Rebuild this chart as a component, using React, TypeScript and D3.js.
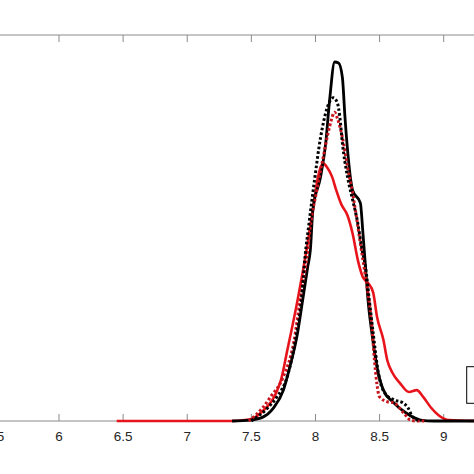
import React from "react";
import * as d3 from "d3";

const W = 474;
const H = 474;

const xTicks = [5.5, 6, 6.5, 7, 7.5, 8, 8.5, 9];

// Black solid series
const blackSolidX = [7.35, 7.49, 7.59, 7.67, 7.75, 7.8, 7.86, 7.9, 7.94, 7.96, 7.98, 8.04, 8.08, 8.11, 8.15, 8.18, 8.21, 8.23, 8.25, 8.29, 8.35, 8.37, 8.39, 8.41, 8.44, 8.48, 8.53, 8.61, 8.71, 8.82, 8.92, 9.3];
const blackSolidY = [0, 0.01, 0.04, 0.13, 0.32, 0.56, 0.91, 1.25, 1.6, 1.77, 2.19, 2.53, 2.88, 3.32, 3.72, 3.71, 3.56, 3.15, 2.81, 2.39, 2.26, 1.95, 1.6, 1.25, 0.91, 0.56, 0.32, 0.19, 0.08, 0.01, 0, 0];

// Black dotted series
const blackDotX = [7.5, 7.63, 7.7, 7.78, 7.84, 7.89, 7.92, 7.95, 7.99, 8.04, 8.14, 8.17, 8.19, 8.21, 8.25, 8.29, 8.33, 8.36, 8.39, 8.42, 8.45, 8.49, 8.54, 8.61, 8.68, 8.72, 8.76, 8.82];
const blackDotY = [0, 0.14, 0.25, 0.46, 0.81, 1.25, 1.72, 2.05, 2.47, 2.94, 3.35, 3.3, 3.15, 2.88, 2.53, 2.29, 2.05, 1.8, 1.6, 1.25, 0.91, 0.5, 0.29, 0.22, 0.19, 0.14, 0.04, 0];

// Red dotted series
const redDotX = [7.48, 7.59, 7.65, 7.75, 7.83, 7.88, 7.94, 7.96, 8.01, 8.06, 8.11, 8.15, 8.17, 8.21, 8.25, 8.29, 8.32, 8.35, 8.39, 8.41, 8.44, 8.46, 8.5, 8.56, 8.61, 8.69, 8.74, 8.79, 8.85];
const redDotY = [0, 0.14, 0.25, 0.46, 0.81, 1.25, 1.77, 2.01, 2.39, 2.73, 3.05, 3.2, 3.14, 2.94, 2.63, 2.36, 2.11, 1.84, 1.5, 1.32, 0.98, 0.63, 0.25, 0.2, 0.19, 0.08, 0.01, 0, 0];

// Red solid series
const redSolidX = [6.45, 7.0, 7.35, 7.45, 7.5, 7.57, 7.73, 7.78, 7.86, 7.93, 7.98, 8.02, 8.06, 8.09, 8.13, 8.16, 8.2, 8.25, 8.29, 8.33, 8.37, 8.41, 8.45, 8.48, 8.53, 8.56, 8.6, 8.66, 8.73, 8.79, 8.84, 8.9, 8.96, 9.04, 9.3];
const redSolidY = [0, 0, 0, 0.01, 0.02, 0.08, 0.42, 0.73, 1.25, 1.77, 2.19, 2.53, 2.67, 2.63, 2.53, 2.4, 2.25, 2.13, 1.94, 1.67, 1.49, 1.43, 1.33, 1.08, 0.84, 0.63, 0.5, 0.39, 0.3, 0.32, 0.25, 0.14, 0.06, 0.01, 0];

export default function App() {
  const x = d3.scaleLinear().domain([6, 9]).range([59, 443.7]);
  const y = d3.scaleLinear().domain([0, 4]).range([421, 35]);
  const line = d3
    .line<[number, number]>()
    .x((d) => x(d[0]))
    .y((d) => y(d[1]))
    .curve(d3.curveMonotoneX);

  const zip = (a: number[], b: number[]) => a.map((v, i) => [v, b[i]] as [number, number]);

  const series = [
    { xs: redSolidX, ys: redSolidY, color: "#e8141c", dash: undefined, w: 2.6 },
    { xs: blackSolidX, ys: blackSolidY, color: "#000000", dash: undefined, w: 2.8 },
    { xs: redDotX, ys: redDotY, color: "#c8141c", dash: "2.6,2.2", w: 3 },
    { xs: blackDotX, ys: blackDotY, color: "#000000", dash: "2.6,2.2", w: 3 },
  ];

  const axisColor = "#8a8a8a";
  const yTop = y(4);
  const yBot = y(0);

  return (
    <svg
      width={W}
      height={H}
      style={{ position: "absolute", left: 0, top: 0, background: "#fff" }}
    >
      <defs>
        <clipPath id="plot">
          <rect x={0} y={yTop} width={W} height={yBot - yTop + 2} />
        </clipPath>
      </defs>
      <rect x={0} y={0} width={W} height={H} fill="#fff" />
      {/* top axis */}
      <line x1={0} x2={W} y1={yTop} y2={yTop} stroke={axisColor} strokeWidth={1} />
      {xTicks.map((t) => (
        <line key={"tt" + t} x1={x(t)} x2={x(t)} y1={yTop} y2={yTop + 7} stroke={axisColor} strokeWidth={1} />
      ))}
      {/* bottom axis */}
      <line x1={0} x2={W} y1={yBot} y2={yBot} stroke={axisColor} strokeWidth={1} />
      {xTicks.map((t) => (
        <line key={"bt" + t} x1={x(t)} x2={x(t)} y1={yBot} y2={yBot - 7} stroke={axisColor} strokeWidth={1} />
      ))}
      {xTicks.map((t) => (
        <text
          key={"lb" + t}
          x={x(t)}
          y={yBot + 20}
          textAnchor="middle"
          fontFamily="Liberation Sans, Arial, sans-serif"
          fontSize={13.5}
          fill="#262626"
        >
          {String(t)}
        </text>
      ))}
      <g clipPath="url(#plot)">
        {series.map((s, i) => (
          <path
            key={i}
            d={line(zip(s.xs, s.ys)) || ""}
            fill="none"
            stroke={s.color}
            strokeWidth={s.w}
            strokeDasharray={s.dash}
            strokeLinejoin="round"
          />
        ))}
      </g>
      {/* legend box (cropped) */}
      <rect x={466.7} y={366.7} width={40} height={36.6} fill="#fff" stroke="#000" strokeWidth={1} />
    </svg>
  );
}
